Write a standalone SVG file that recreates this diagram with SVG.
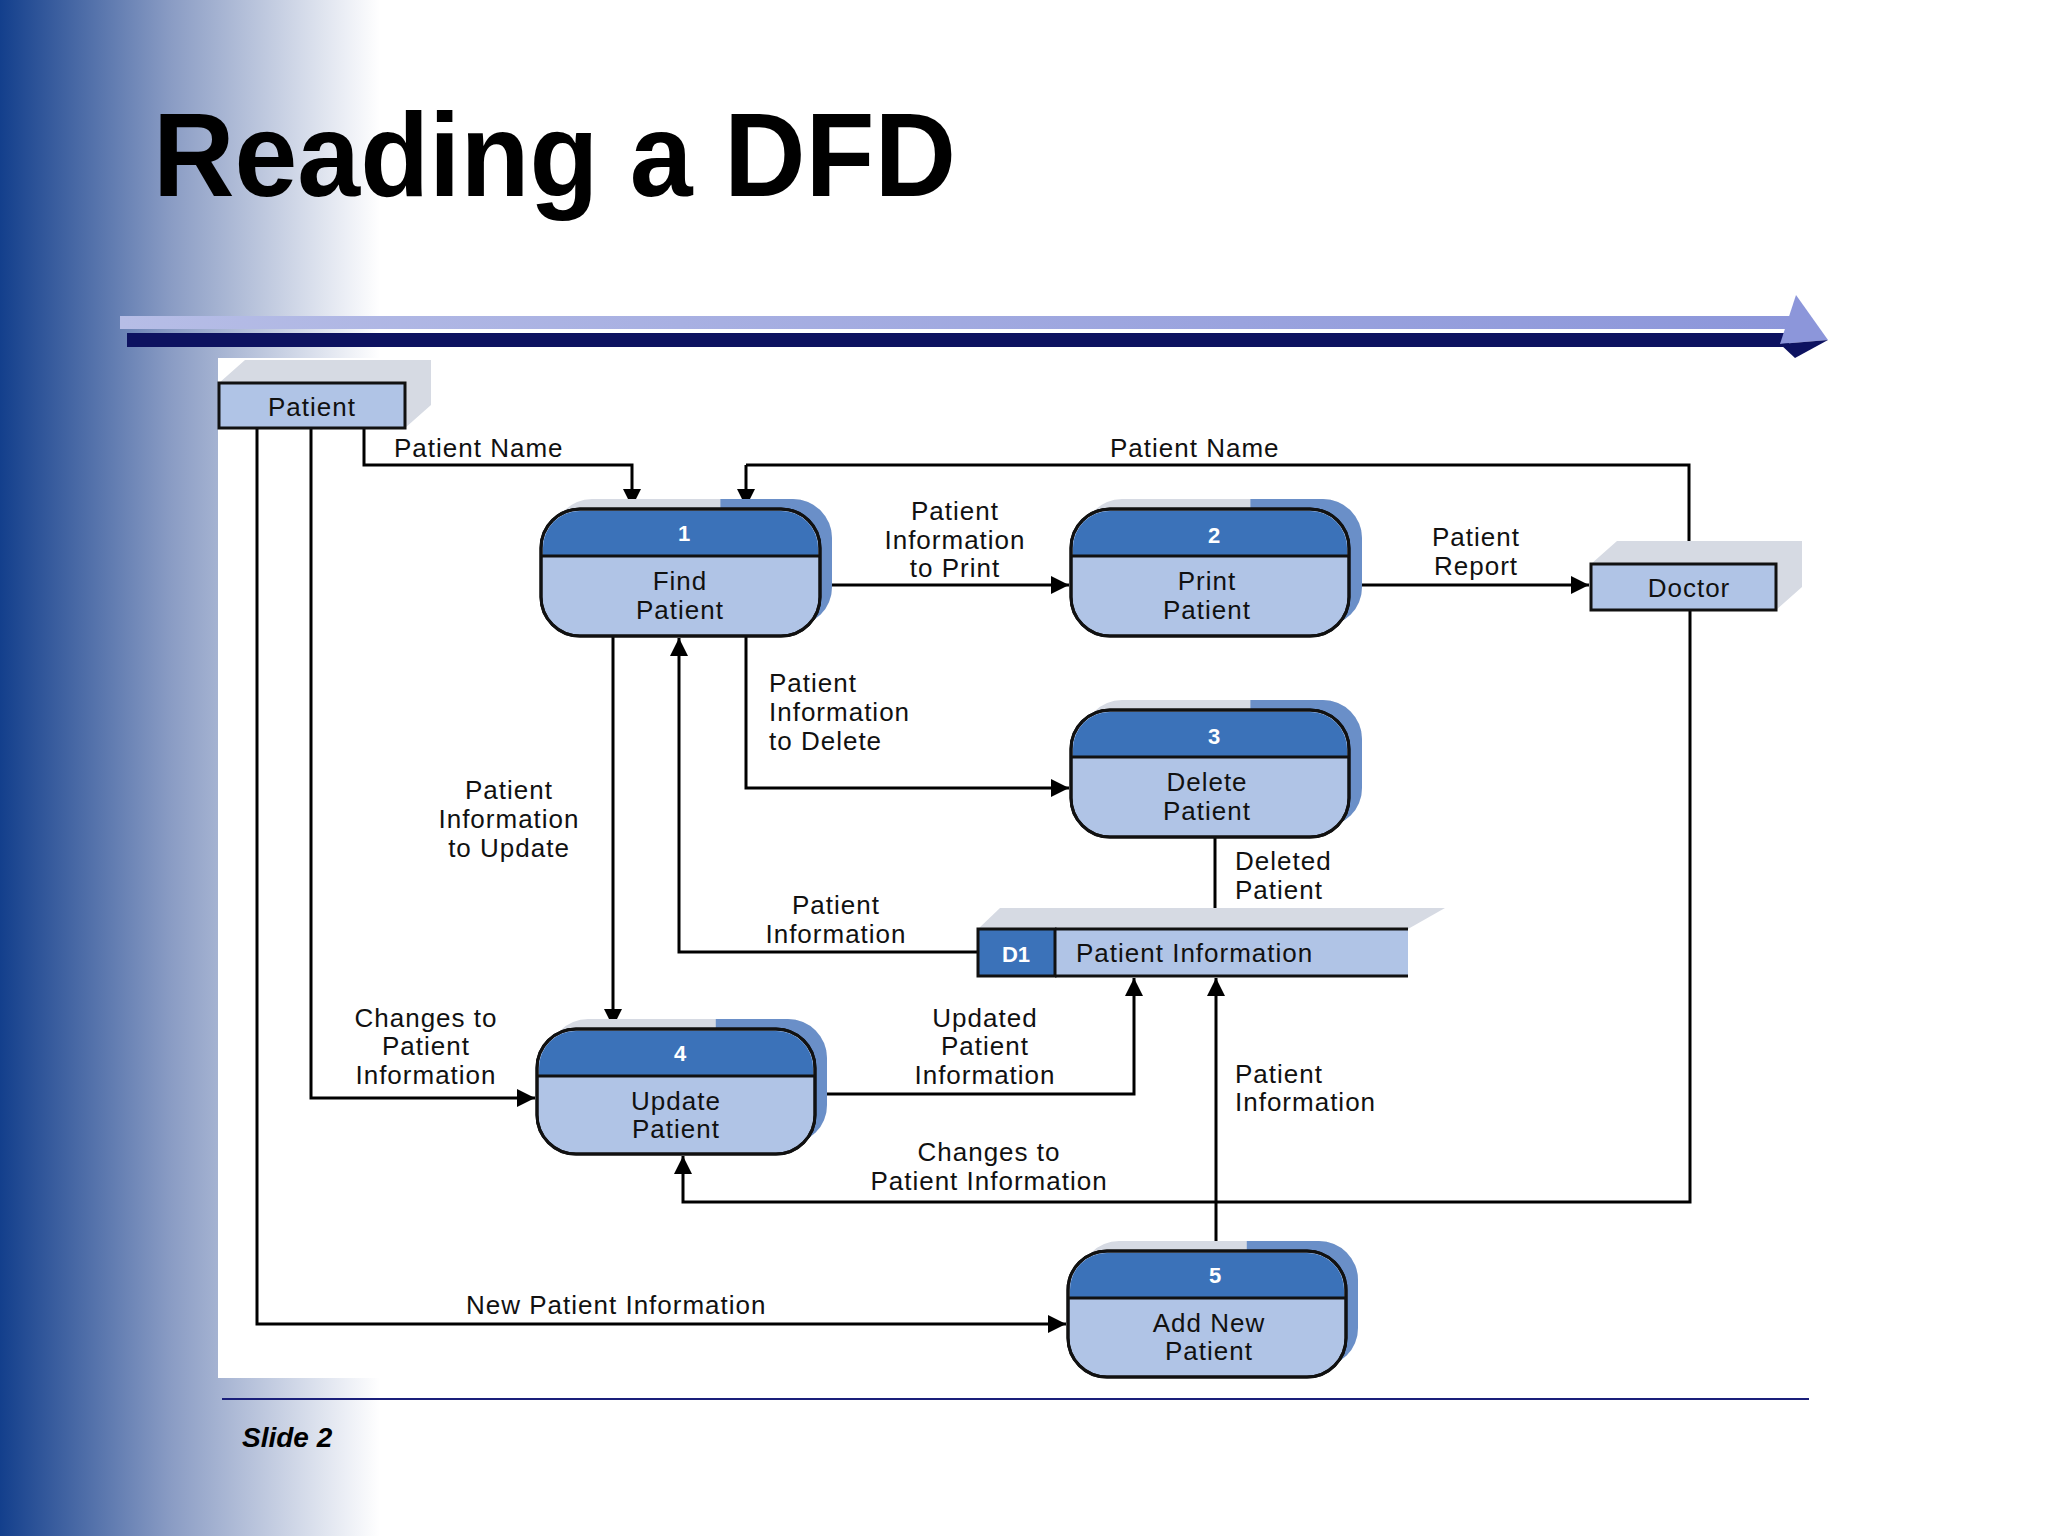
<svg xmlns="http://www.w3.org/2000/svg" width="2048" height="1536" viewBox="0 0 2048 1536">
<defs>
<linearGradient id="bg" x1="0" y1="0" x2="1" y2="0">
<stop offset="0" stop-color="#133f8c"/><stop offset="0.45" stop-color="#8a9cc4"/><stop offset="1" stop-color="#ffffff"/>
</linearGradient>
<linearGradient id="bar" x1="0" y1="0" x2="1" y2="0">
<stop offset="0" stop-color="#b6bde6"/><stop offset="1" stop-color="#8c96da"/>
</linearGradient>
<marker id="ah" viewBox="0 0 10 10" refX="10" refY="5" markerWidth="6" markerHeight="6" orient="auto">
<path d="M0,0 L10,5 L0,10 z" fill="#000"/>
</marker>
<clipPath id="hc1"><rect x="0" y="0" width="2048" height="47"/></clipPath>
</defs>
<style>
.t{font-family:"Liberation Sans",Arial,sans-serif;font-size:26px;fill:#111;letter-spacing:1px}
.c{text-anchor:middle}
.n{font-family:"Liberation Sans",Arial,sans-serif;font-size:22px;font-weight:bold;fill:#fff;text-anchor:middle}
.ln{fill:none;stroke:#000;stroke-width:3;marker-end:url(#ah)}
.box{fill:#b0c4e6;stroke:#111;stroke-width:3}
.sh{fill:#d6dae3}
.hd{fill:#3b72b9}
.side{fill:#4f7cc0}
</style>
<rect width="2048" height="1536" fill="#fff"/>
<rect width="380" height="1536" fill="url(#bg)"/>
<rect x="218" y="358" width="1600" height="1020" fill="#fff"/>
<text x="153" y="196" font-family="Liberation Sans,Arial,sans-serif" font-weight="bold" font-size="118" textLength="803" lengthAdjust="spacingAndGlyphs" fill="#000">Reading a DFD</text>
<rect x="120" y="316" width="1680" height="13" fill="url(#bar)"/>
<rect x="127" y="333" width="1662" height="14" fill="#0d1260"/>
<polygon points="1796,295 1828,340 1780,344" fill="#8c96da"/>
<polygon points="1780,344 1828,340 1795,358" fill="#0d1260"/>
<line x1="222" y1="1399" x2="1809" y2="1399" stroke="#1a1f7a" stroke-width="2"/>
<text x="242" y="1447" font-family="Liberation Sans,Arial,sans-serif" font-style="italic" font-weight="bold" font-size="28" fill="#000">Slide 2</text>

<g id="connectors">
<polyline class="ln" points="364,428 364,465 632,465 632,507"/>
<polyline class="ln" points="746,465 1689,465 1689,562"/>
<polyline class="ln" points="746,465 746,507"/>
<polyline class="ln" points="820,585 1069,585"/>
<polyline class="ln" points="1360,585 1589,585"/>
<polyline class="ln" points="746,636 746,788 1069,788"/>
<polyline class="ln" points="613,636 613,1027"/>
<polyline class="ln" points="978,952 679,952 679,638"/>
<polyline class="ln" points="1215,837 1215,927"/>
<polyline class="ln" points="311,428 311,1098 535,1098"/>
<polyline class="ln" points="257,428 257,1324 1066,1324"/>
<polyline class="ln" points="815,1094 1134,1094 1134,978"/>
<polyline class="ln" points="1216,1251 1216,978"/>
<polyline class="ln" points="1690,610 1690,1202 683,1202 683,1156"/>
</g>
<g id="labels">
<text class="t" x="394" y="457">Patient Name</text>
<text class="t" x="1110" y="457">Patient Name</text>
<text class="t c" x="955" y="520">Patient</text><text class="t c" x="955" y="549">Information</text><text class="t c" x="955" y="577">to Print</text>
<text class="t c" x="1476" y="546">Patient</text><text class="t c" x="1476" y="575">Report</text>
<text class="t" x="769" y="692">Patient</text><text class="t" x="769" y="721">Information</text><text class="t" x="769" y="750">to Delete</text>
<text class="t c" x="509" y="799">Patient</text><text class="t c" x="509" y="828">Information</text><text class="t c" x="509" y="857">to Update</text>
<text class="t" x="1235" y="870">Deleted</text><text class="t" x="1235" y="899">Patient</text>
<text class="t c" x="836" y="914">Patient</text><text class="t c" x="836" y="943">Information</text>
<text class="t c" x="426" y="1027">Changes to</text><text class="t c" x="426" y="1055">Patient</text><text class="t c" x="426" y="1084">Information</text>
<text class="t c" x="985" y="1027">Updated</text><text class="t c" x="985" y="1055">Patient</text><text class="t c" x="985" y="1084">Information</text>
<text class="t" x="1235" y="1083">Patient</text><text class="t" x="1235" y="1111">Information</text>
<text class="t c" x="989" y="1161">Changes to</text><text class="t c" x="989" y="1190">Patient Information</text>
<text class="t" x="466" y="1314">New Patient Information</text>
</g>

<g id="patient">
<polygon class="sh" points="219,383 245,360 431,360 431,405 405,428 405,383"/>
<rect class="box" x="219" y="383" width="186" height="45"/>
<text class="t c" x="312" y="416">Patient</text>
</g>
<g id="doctor">
<polygon class="sh" points="1591,564 1617,541 1802,541 1802,587 1776,610 1776,564"/>
<rect class="box" x="1591" y="564" width="185" height="46"/>
<text class="t c" x="1689" y="597">Doctor</text>
</g>

<g id="p1">
<rect class="sh" x="553" y="499" width="279" height="127" rx="39"/>
<rect class="side" x="553" y="499" width="279" height="127" rx="39" transform="translate(0,0)" opacity="0.8" clip-path="inset(0 0 0 60%)"/>
<rect class="box" x="541" y="509" width="279" height="127" rx="39"/>
<path class="hd" d="M580,511 H781 A37,37 0 0 1 818,548 V556 H543 V548 A37,37 0 0 1 580,511 z"/>
<rect x="541" y="509" width="279" height="127" rx="39" fill="none" stroke="#111" stroke-width="3"/>
<line x1="541" y1="556" x2="820" y2="556" stroke="#111" stroke-width="3"/>
<text class="n" x="684" y="541">1</text>
<text class="t c" x="680" y="590">Find</text><text class="t c" x="680" y="619">Patient</text>
</g>
<g id="p2">
<rect class="sh" x="1083" y="499" width="279" height="127" rx="39"/>
<rect class="side" x="1083" y="499" width="279" height="127" rx="39" opacity="0.8" clip-path="inset(0 0 0 60%)"/>
<rect class="box" x="1071" y="509" width="278" height="127" rx="39"/>
<path class="hd" d="M1110,511 H1310 A37,37 0 0 1 1347,548 V556 H1073 V548 A37,37 0 0 1 1110,511 z"/>
<rect x="1071" y="509" width="278" height="127" rx="39" fill="none" stroke="#111" stroke-width="3"/>
<line x1="1071" y1="556" x2="1349" y2="556" stroke="#111" stroke-width="3"/>
<text class="n" x="1214" y="543">2</text>
<text class="t c" x="1207" y="590">Print</text><text class="t c" x="1207" y="619">Patient</text>
</g>
<g id="p3">
<rect class="sh" x="1083" y="700" width="279" height="127" rx="39"/>
<rect class="side" x="1083" y="700" width="279" height="127" rx="39" opacity="0.8" clip-path="inset(0 0 0 60%)"/>
<rect class="box" x="1071" y="710" width="278" height="127" rx="39"/>
<path class="hd" d="M1110,712 H1310 A37,37 0 0 1 1347,749 V757 H1073 V749 A37,37 0 0 1 1110,712 z"/>
<rect x="1071" y="710" width="278" height="127" rx="39" fill="none" stroke="#111" stroke-width="3"/>
<line x1="1071" y1="757" x2="1349" y2="757" stroke="#111" stroke-width="3"/>
<text class="n" x="1214" y="744">3</text>
<text class="t c" x="1207" y="791">Delete</text><text class="t c" x="1207" y="820">Patient</text>
</g>
<g id="p4">
<rect class="sh" x="549" y="1019" width="278" height="125" rx="39"/>
<rect class="side" x="549" y="1019" width="278" height="125" rx="39" opacity="0.8" clip-path="inset(0 0 0 60%)"/>
<rect class="box" x="537" y="1029" width="278" height="125" rx="39"/>
<path class="hd" d="M576,1031 H776 A37,37 0 0 1 813,1068 V1076 H539 V1068 A37,37 0 0 1 576,1031 z"/>
<rect x="537" y="1029" width="278" height="125" rx="39" fill="none" stroke="#111" stroke-width="3"/>
<line x1="537" y1="1076" x2="815" y2="1076" stroke="#111" stroke-width="3"/>
<text class="n" x="680" y="1061">4</text>
<text class="t c" x="676" y="1110">Update</text><text class="t c" x="676" y="1138">Patient</text>
</g>
<g id="p5">
<rect class="sh" x="1080" y="1241" width="278" height="126" rx="39"/>
<rect class="side" x="1080" y="1241" width="278" height="126" rx="39" opacity="0.8" clip-path="inset(0 0 0 60%)"/>
<rect class="box" x="1068" y="1251" width="278" height="126" rx="39"/>
<path class="hd" d="M1107,1253 H1307 A37,37 0 0 1 1344,1290 V1298 H1070 V1290 A37,37 0 0 1 1107,1253 z"/>
<rect x="1068" y="1251" width="278" height="126" rx="39" fill="none" stroke="#111" stroke-width="3"/>
<line x1="1068" y1="1298" x2="1346" y2="1298" stroke="#111" stroke-width="3"/>
<text class="n" x="1215" y="1283">5</text>
<text class="t c" x="1209" y="1332">Add New</text><text class="t c" x="1209" y="1360">Patient</text>
</g>
<g id="d1">
<polygon class="sh" points="978,929 1000,908 1445,908 1408,929"/>
<rect x="978" y="929" width="430" height="47" fill="#b0c4e6"/>
<rect x="978" y="929" width="77" height="47" fill="#3b72b9" stroke="#111" stroke-width="3"/>
<polyline points="1055,929 1408,929 M1055,976 1408,976" fill="none" stroke="#111" stroke-width="3"/>
<line x1="1055" y1="976" x2="1408" y2="976" stroke="#111" stroke-width="3"/>
<text class="n" x="1016" y="962" font-size="25">D1</text>
<text class="t" x="1076" y="962">Patient Information</text>
</g>
</svg>
